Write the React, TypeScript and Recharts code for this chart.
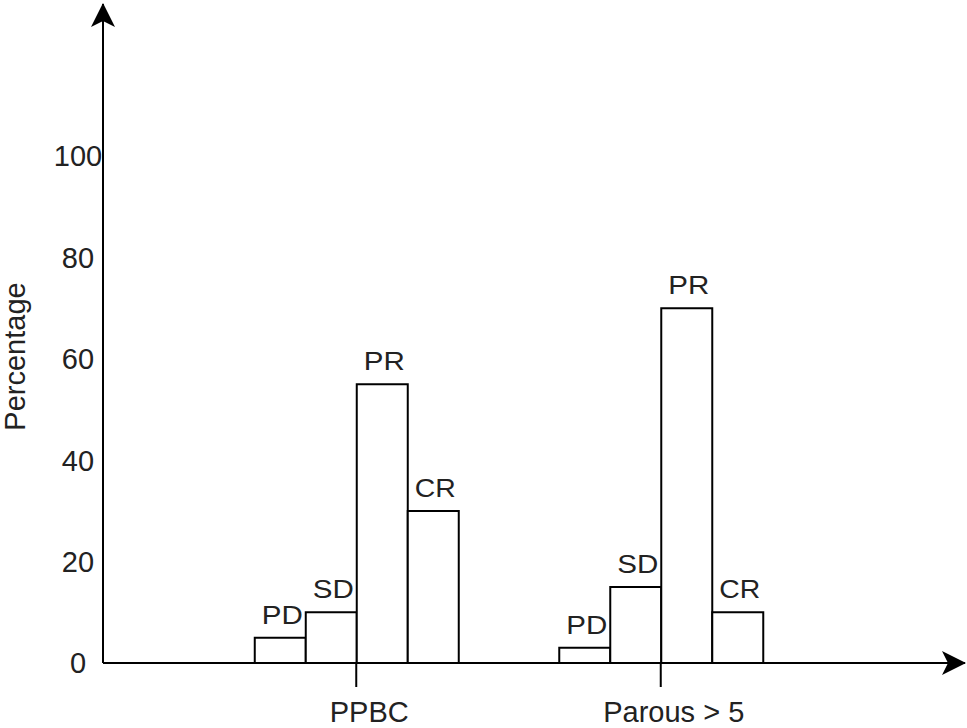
import { Bar, BarChart, LabelList, XAxis, YAxis } from "recharts";

const CATEGORIES = ["PPBC", "Parous > 5"];
const PD = [5, 3];
const SD = [10, 15];
const PR = [55, 70];
const CR = [30, 10];
const SERIES = ["PD", "SD", "PR", "CR"];
const Y_TICKS = [0, 20, 40, 60, 80, 100];

const TEXT = "#222";
const FONT = "'Liberation Sans', Arial, sans-serif";

const data = CATEGORIES.map((name, i) => ({
  name,
  PD: PD[i],
  SD: SD[i],
  PR: PR[i],
  CR: CR[i],
}));

// series name drawn above each bar (the picture's labels are a bit stretched)
const seriesLabel = (name: string) => (props: any) => {
  const { x, y, width } = props;
  return (
    <text
      x={Number(x) + Number(width) / 2 + 2}
      y={Number(y) - 14}
      textAnchor="middle"
      fontSize={25}
      textLength={41}
      lengthAdjust="spacingAndGlyphs"
      fill={TEXT}
    >
      {name}
    </text>
  );
};

const yTitle = (props: any) => {
  const vb = props.viewBox;
  const cx = vb.x + 25;
  const cy = vb.y + vb.height / 2 + 23;
  return (
    <text
      x={cx}
      y={cy}
      transform={`rotate(-90, ${cx}, ${cy})`}
      textAnchor="middle"
      fontSize={29}
      fill={TEXT}
    >
      Percentage
    </text>
  );
};

export default function App() {
  return (
    <div
      style={{ position: "absolute", left: 0, top: 0, fontFamily: FONT }}
    >
      <svg width={0} height={0} style={{ position: "absolute" }}>
        <defs>
          <marker
            id="arrow"
            markerUnits="userSpaceOnUse"
            markerWidth={24}
            markerHeight={24}
            viewBox="0 0 24 24"
            refX={23}
            refY={12}
            orient="auto-start-reverse"
          >
            <path d="M0,0 L24,12 L0,24 L6,12 Z" fill="#000" />
          </marker>
        </defs>
      </svg>
      <BarChart
        width={967}
        height={728}
        data={data}
        margin={{ top: 4, right: 2, bottom: 0, left: 0 }}
        barGap={0}
        barCategoryGap="16.67%"
      >
        <XAxis
          dataKey="name"
          padding={{ left: 101, right: 152 }}
          height={65}
          tickSize={24}
          tickMargin={14}
          axisLine={{ stroke: "#000", strokeWidth: 2, markerEnd: "url(#arrow)" }}
          tickLine={{ stroke: "#000", strokeWidth: 2 }}
          tick={{ fontSize: 29, fill: TEXT, dx: 13 }}
        />
        <YAxis
          width={103}
          domain={[0, 130]}
          ticks={Y_TICKS}
          interval={0}
          tickSize={0}
          tickMargin={25}
          tickLine={false}
          axisLine={{
            stroke: "#000",
            strokeWidth: 2,
            markerStart: "url(#arrow)",
          }}
          tick={{ fontSize: 29, fill: TEXT, textAnchor: "middle" }}
          label={{ content: yTitle }}
        />
        {SERIES.map((s) => (
          <Bar
            key={s}
            dataKey={s}
            fill="#fff"
            stroke="#000"
            strokeWidth={2}
            isAnimationActive={false}
          >
            <LabelList dataKey={s} content={seriesLabel(s)} />
          </Bar>
        ))}
      </BarChart>
    </div>
  );
}
